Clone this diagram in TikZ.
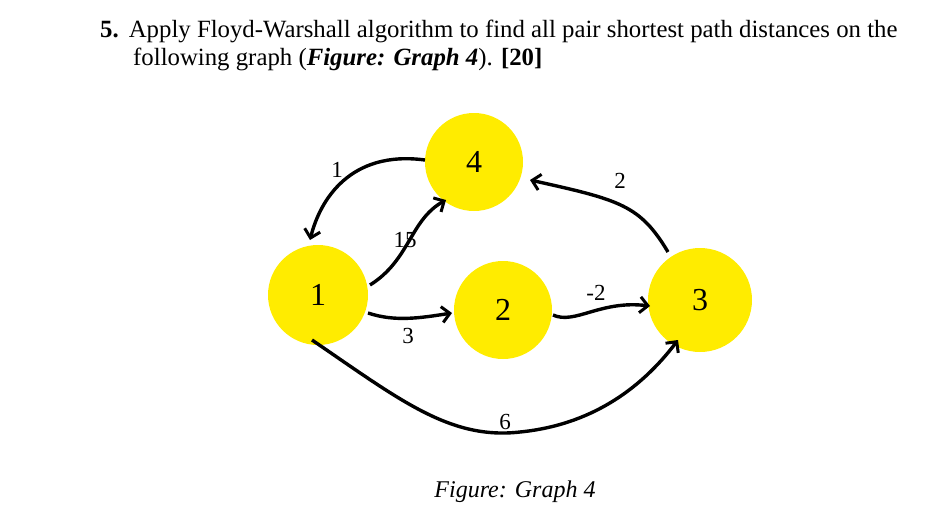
\documentclass[tikz,border=0pt]{standalone}
\usepackage{fontspec}
\setmainfont{Liberation Serif}
\usetikzlibrary{arrows.meta}
\definecolor{vy}{RGB}{255,236,0}
\begin{document}
\begin{tikzpicture}[x=1pt,y=-1pt,
  vert/.style={circle,fill=vy,minimum size=98pt,inner sep=0pt,font=\fontsize{32}{32}\selectfont},
  edge/.style={line width=3.4pt,-{Straight Barb[length=8pt,width=16pt,line width=3pt]}},
  lab/.style={font=\fontsize{23}{23}\selectfont,inner sep=1pt}]
\useasboundingbox (0,0) rectangle (929,525);
\node[anchor=base west,font=\fontsize{24.8}{24.8}\selectfont,inner sep=0pt] (t1) at (100,37) {\textbf{5.}\hspace{10pt}Apply Floyd-Warshall algorithm to find all pair shortest path distances on the};
\node[anchor=base west,font=\fontsize{24.8}{24.8}\selectfont,inner sep=0pt] (t2) at (133,65) {following graph (\textbf{\textit{Figure: Graph 4}}). \textbf{[20]}};
\node[vert] (n4) at (474,162) {4};
\node[vert,minimum size=100pt] (n1) at (318,295) {1};
\node[vert] (n2) at (503,310) {2};
\node[vert,minimum size=104pt] (n3) at (700,300) {3};
\draw[edge] (425,160) .. controls (350,150) and (320,200) .. (310,240);
\draw[edge] (370,285) .. controls (410,260) and (410,220) .. (446,200);
\draw[edge] (368,313) .. controls (395,322) and (420,318) .. (452,313);
\draw[edge] (553,315) .. controls (575,325) and (600,300) .. (650,306);
\draw[edge] (668,252) .. controls (640,205) and (620,200) .. (530,180);
\draw[edge] (312,340) .. controls (400,400) and (450,440) .. (520,432) .. controls (590,425) and (640,390) .. (678,340);
\node[lab] (l1) at (337,170) {1};
\node[lab] (l15) at (405,240) {15};
\node[lab] (l3) at (408,336) {3};
\node[lab] (lm2) at (596,293) {-2};
\node[lab] (l2) at (620,181) {2};
\node[lab] (l6) at (505,422) {6};
\node[font=\fontsize{24}{24}\selectfont\itshape] (cap) at (515,492) {Figure: Graph 4};
\end{tikzpicture}
\end{document}
